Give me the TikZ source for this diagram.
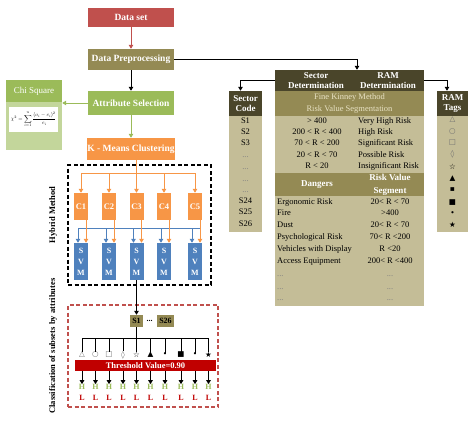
\documentclass[tikz,border=0pt]{standalone}
\usepackage{amsmath}
\usepackage{graphicx}
\usepackage{fontspec}
\setmainfont{Liberation Serif}
\newfontfamily\symfont{DejaVu Sans}
\usetikzlibrary{arrows.meta, positioning}

\definecolor{dsred}{HTML}{C0504D}
\definecolor{boxolive}{HTML}{948A54}
\definecolor{darkolive}{HTML}{4A452A}
\definecolor{khaki}{HTML}{C4BD97}
\definecolor{cream}{HTML}{E8E2C4}
\definecolor{grn}{HTML}{9BBB59}
\definecolor{lgrn}{HTML}{C3D69B}
\definecolor{orng}{HTML}{F79646}
\definecolor{blu}{HTML}{4F81BD}
\definecolor{barred}{HTML}{C00000}
\definecolor{symgray}{HTML}{707070}

\begin{document}
\begin{tikzpicture}[x=1pt, y=-1pt,
  mainbox/.style={fill=#1, text=white, minimum width=86pt, inner sep=0pt,
                  font=\fontsize{9.5}{11}\selectfont\bfseries},
  cbox/.style={fill=orng, text=white, minimum width=14pt, minimum height=27pt,
               inner sep=0pt, font=\fontsize{8.5}{10}\selectfont\bfseries},
  svmbox/.style={fill=blu, text=white, minimum width=14pt, minimum height=37pt,
                 inner sep=0pt, align=center, font=\fontsize{8}{11}\selectfont\bfseries},
  hdbox/.style={fill=darkolive, text=white, inner sep=0pt, align=center,
                font=\fontsize{9}{10.5}\selectfont\bfseries},
  bodybox/.style={fill=khaki, inner sep=0pt},
  cell/.style={inner sep=0pt, text height=6pt, text depth=2pt,
               font=\fontsize{8.5}{10}\selectfont},
  tag/.style={inner sep=0pt, font=\symfont\fontsize{7.5}{8}\selectfont},
  hl/.style={inner sep=0pt, font=\fontsize{8}{9}\selectfont\bfseries},
  vlabel/.style={rotate=90, font=\fontsize{8.5}{10}\selectfont\bfseries},
  dashbox/.style={draw=#1, line width=1.3pt, dash pattern=on 4pt off 2.5pt, inner sep=0pt},
  arr/.style={-{Triangle[length=4pt, width=4.5pt]}, line width=1pt}
]
  \useasboundingbox (0,0) rectangle (474,429);

  % main flow
  \node[mainbox=dsred, minimum height=19pt] (data) at (131,17) {Data set};
  \node[mainbox=boxolive, minimum height=21pt] (prep) at (131,59.5) {Data Preprocessing};
  \node[mainbox=grn, minimum height=24pt] (attr) at (131,103) {Attribute Selection};
  \node[mainbox=orng, minimum height=22pt] (kmeans) at (131,149) {K - Means Clustering};
  \draw[arr, dsred] (data) -- (prep);
  \draw[arr] (prep) -- (attr);
  \draw[arr, grn] (attr) -- (kmeans);

  % chi square
  \node[fill=grn, text=white, minimum width=56pt, minimum height=22pt, inner sep=0pt,
        font=\fontsize{9}{10}\selectfont] (chihead) at (34,91) {Chi Square};
  \node[fill=lgrn, minimum width=56pt, minimum height=48pt, inner sep=0pt] (chibody) at (34,126) {};
  \node[fill=white, minimum width=49pt, minimum height=25pt, inner sep=0pt] (formula) at (33.5,119.5)
    {\resizebox{45pt}{!}{$\displaystyle \chi^2=\sum_{i=1}^{n}\frac{(o_i-e_i)^2}{e_i}$}};
  \draw[arr, grn] (attr.west) -- (attr.west -| chibody.east);

  % hybrid method
  \node[dashbox=black, minimum width=143pt, minimum height=120pt] (hybrid) at (139.5,225) {};
  \node[vlabel] (hyblabel) at (53,215) {Hybrid Method};
  \foreach \i/\x in {1/81, 2/109, 3/136.5, 4/164, 5/195} {
    \node[cbox] (c\i) at (\x,206.5) {C\i};
    \node[svmbox] (svm\i) at (\x,261.5) {S\\V\\M};
  }
  \coordinate (obus) at (136.5,173);
  \draw[orng, line width=1pt] (kmeans.south -| obus) -- (obus);
  \draw[orng, line width=1pt] (c1 |- obus) -- (c5 |- obus);
  \coordinate (bbusL) at (78,228);
  \coordinate (bbusR) at (200,228);
  \draw[blu, line width=1pt] (bbusL) -- (bbusR);
  \foreach \i in {1,...,5} {
    \draw[arr, orng] (c\i |- obus) -- (c\i.north);
    \draw[arr, blu] ([xshift=-3pt]svm\i.north |- bbusL) -- ([xshift=-3pt]svm\i.north);
    \draw[arr, orng] ([xshift=5pt]c\i.south) -- ([xshift=5pt]svm\i.north);
  }

  % classification of subsets
  \node[dashbox=dsred, minimum width=150pt, minimum height=102pt] (classbox) at (143,356) {};
  \node[vlabel] (classlabel) at (53,346) {Classification of subsets by attributes};
  \node[fill=boxolive, minimum width=13pt, minimum height=12pt, inner sep=0pt,
        font=\fontsize{8}{9}\selectfont\bfseries] (s1) at (136.5,321) {S1};
  \node[font=\fontsize{8}{9}\selectfont\bfseries, inner sep=0pt] (sdots) at (149.5,321) {...};
  \node[fill=boxolive, minimum width=17pt, minimum height=12pt, inner sep=0pt,
        font=\fontsize{8}{9}\selectfont\bfseries] (s26) at (165.5,321) {S26};
  \draw[arr] (svm3.south) -- (s1.north);
  \coordinate (tbus) at (136.5,338);
  \coordinate (tbusL) at (82,338);
  \coordinate (tbusR) at (209,338);
  \draw[line width=1pt] (s1.south) -- (tbus);
  \draw[line width=1pt] (tbusL) -- (tbusR);
  \node[fill=barred, text=white, minimum width=141pt, minimum height=11pt, inner sep=0pt,
        font=\fontsize{8.5}{10}\selectfont\bfseries] (thresh) at (145.5,365.5) {Threshold Value=0.90};
  \foreach \i/\x/\sym/\col in {1/82/△/symgray, 2/95.5/○/symgray, 3/109/□/symgray, 4/123/◊/symgray,
      5/136.5/☆/black, 6/150.5/▲/black, 7/165/•/black, 8/181/■/black, 9/195/•/black, 10/208.5/★/black} {
    \node[tag, text=\col] (t\i) at (\x,355) {\sym};
    \draw[line width=1pt] (t\i |- tbusL) -- (t\i.north);
    \node[hl, text=grn] (h\i) at (\x,387) {H};
    \node[hl, text=barred] (l\i) at (\x,398) {L};
    \draw[arr] (h\i |- thresh.south) -- (h\i.north);
  }

  % determination tables
  \node[hdbox, minimum width=149pt, minimum height=21pt] (hdr) at (349.5,80.5) {};
  \node[hdbox, fill=none] (hdrsec) at (316,80.5) {Sector\\Determination};
  \node[hdbox, fill=none] (hdrram) at (388,80.5) {RAM\\Determination};
  \draw[arr] (prep.east) -| ([xshift=7.5pt]hdr.north);

  \node[hdbox, minimum width=33pt, minimum height=25pt] (sechead) at (245.5,103.5) {Sector\\Code};
  \node[bodybox, minimum width=33pt, minimum height=116pt] (secbody) at (245.5,174) {};
  \node[hdbox, minimum width=31pt, minimum height=25pt] (ramhead) at (452.5,103.5) {RAM\\Tags};
  \node[bodybox, minimum width=31pt, minimum height=116pt] (rambody) at (452.5,174) {};
  \draw[arr] (hdr.west) -| ([xshift=-5pt]sechead.north);
  \draw[arr] (hdr.east) -| ([xshift=-5.5pt]ramhead.north);

  \node[fill=boxolive, text=cream, minimum width=149pt, minimum height=25pt, inner sep=0pt,
        align=center, font=\fontsize{8.5}{12}\selectfont] (kinney) at (349.5,103.5)
        {Fine Kinney Method\\Risk Value Segmentation};
  \node[bodybox, minimum width=149pt, minimum height=57pt] (riskbody) at (349.5,144.5) {};
  \node[fill=boxolive, minimum width=149pt, minimum height=23pt, inner sep=0pt] (dghead) at (349.5,184.5) {};
  \node[hdbox, fill=none] (dglabel) at (317,185) {Dangers};
  \node[hdbox, fill=none, font=\fontsize{9}{13}\selectfont\bfseries] (rvlabel) at (390,184.5) {Risk Value\\Segment};
  \node[bodybox, minimum width=149pt, minimum height=110pt] (dgbody) at (349.5,251) {};

  \foreach \y/\rng/\lvl [count=\i] in {121/> 400/Very High Risk, 132/200 < R < 400/High Risk,
      143.5/70 < R < 200/Significant Risk, 155/20 < R < 70/Possible Risk, 166/R < 20/Insignificant Risk} {
    \node[cell] (rg\i) at (317,\y) {\rng};
    \node[cell, anchor=west] (lv\i) at (358,\y) {\lvl};
  }
  \foreach \y/\dg/\seg [count=\i] in {202/Ergonomic Risk/20< R < 70, 213/Fire/>400, 225/Dust/20< R < 70,
      237/Psychological Risk/70< R <200, 249/Vehicles with Display/R <20, 261.5/Access Equipment/200< R <400,
      274/{\textcolor{gray}{...}}/{\textcolor{gray}{...}}, 287/{\textcolor{gray}{...}}/{\textcolor{gray}{...}},
      298/{\textcolor{gray}{...}}/{\textcolor{gray}{...}}} {
    \node[cell, anchor=west] (dg\i) at (277,\y) {\dg};
    \node[cell] (sg\i) at (390,\y) {\seg};
  }
  \foreach \y/\code [count=\i] in {121/S1, 132/S2, 143/S3, 155/{\textcolor{gray}{...}}, 167/{\textcolor{gray}{...}},
      179/{\textcolor{gray}{...}}, 190/{\textcolor{gray}{...}}, 201/S24, 212/S25, 224/S26} {
    \node[cell] (sc\i) at (245.5,\y) {\code};
  }
  \foreach \y/\sym/\col [count=\i] in {120/△/symgray, 132/○/symgray, 143/□/symgray, 154/◊/symgray, 167/☆/black,
      179/▲/black, 190/▪/black, 203/■/black, 214/•/black, 225/★/black} {
    \node[tag, text=\col] (rt\i) at (452.5,\y) {\sym};
  }
\end{tikzpicture}
\end{document}
